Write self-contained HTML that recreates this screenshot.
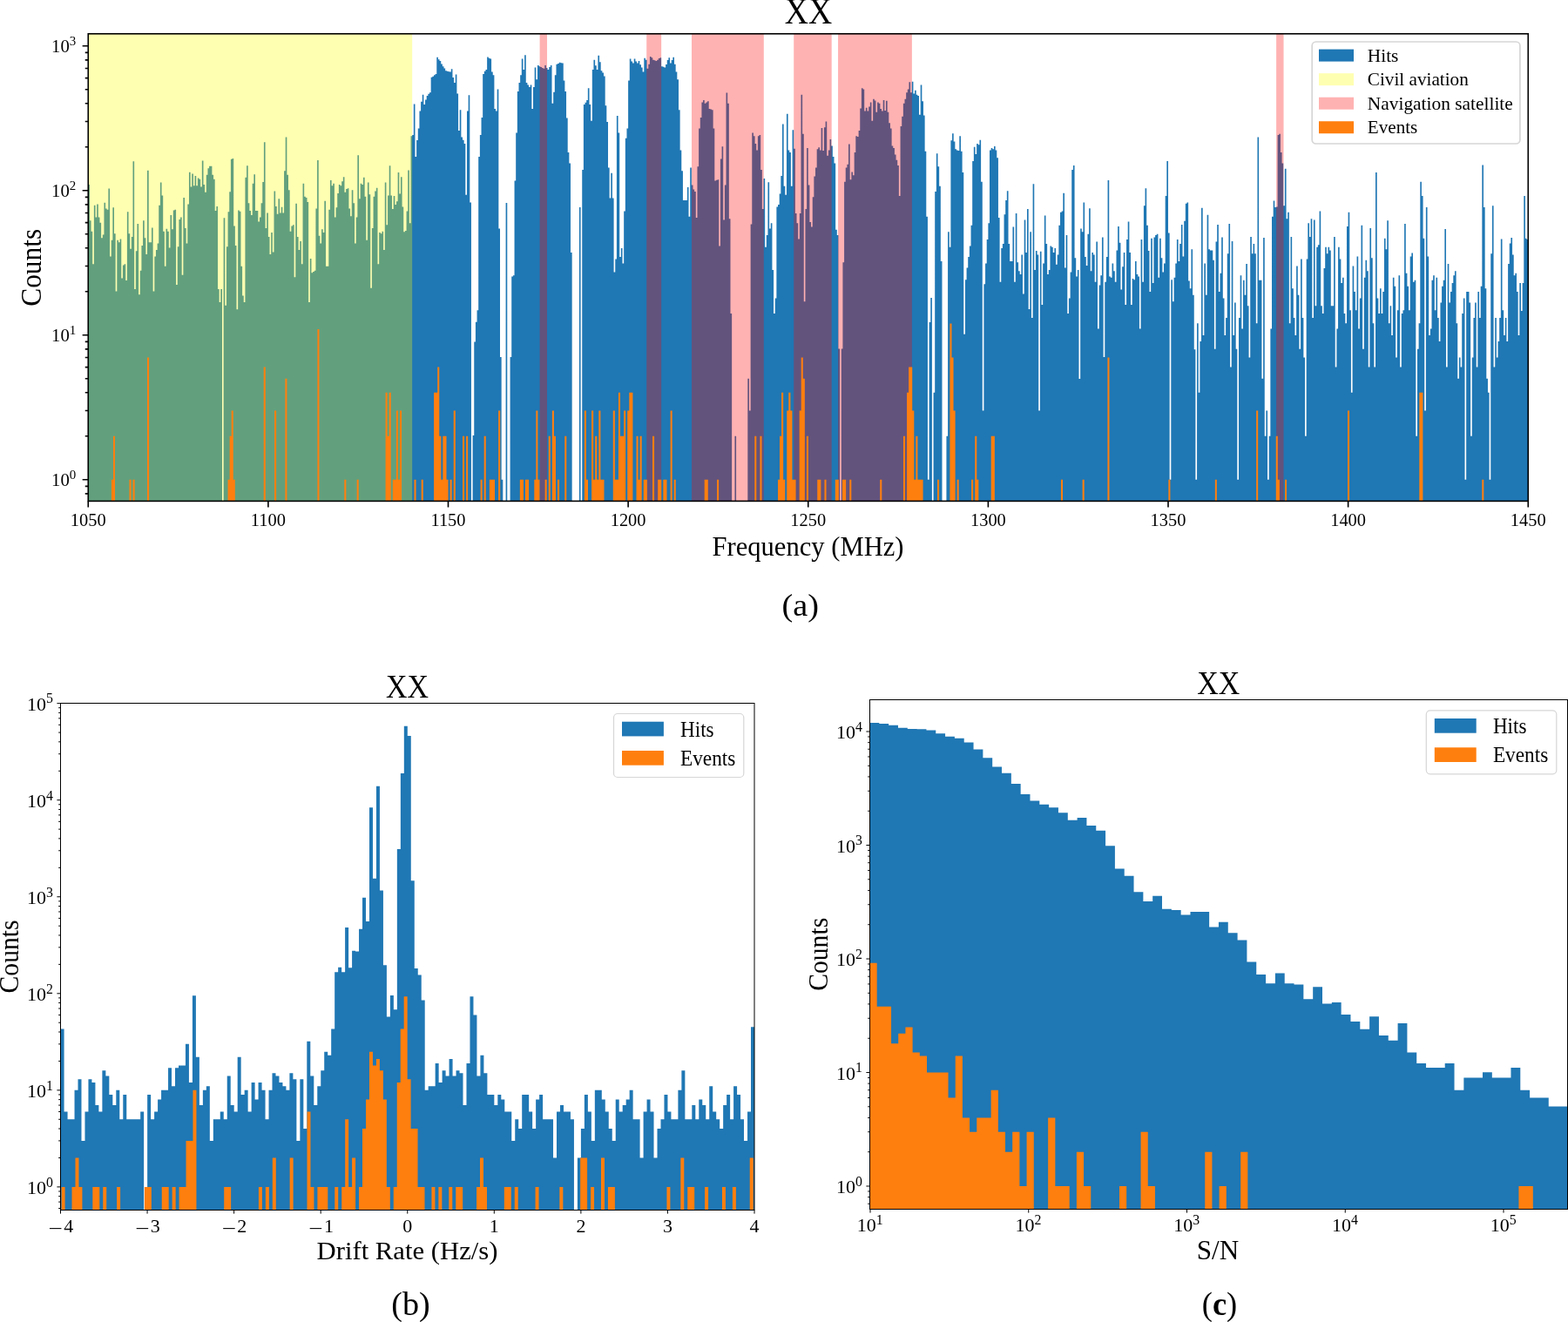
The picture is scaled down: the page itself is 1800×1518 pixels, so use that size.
<!DOCTYPE html>
<html lang="en"><head><meta charset="utf-8"><title>Hits and events histograms</title>
<style>html,body{margin:0;padding:0;background:#fff}body{width:1800px;height:1518px;overflow:hidden}svg{display:block}</style></head>
<body>
<svg width="1800" height="1518" viewBox="0 0 1800 1518" font-family='"Liberation Serif", "DejaVu Serif", serif' fill="#000">
<rect width="1800" height="1518" fill="#fff"/>
<clipPath id="ca"><rect x="101.25" y="38.8" width="1653" height="536.6"/></clipPath>
<g clip-path="url(#ca)">
<path fill="#1f77b4" d="M101.25 575.4V212.05H102.9V253.3H104.56V265.8H106.21V303.3H107.86V235.8H109.52V249.55H111.17V234.55H112.82V249.55H114.47V255.8H116.13V273.3H117.78V269.55H119.43V232.8H121.09V239.55H122.74V240.8H124.39V216.55H126.05V294.55H127.7V275.8H129.35V238.3H131V268.3H132.66V334.55H134.31V275.8H135.96V278.3H137.62V274.55H139.27V319.55H140.92V304.55H142.57V303.3H144.23V322.05H145.88V243.3H147.53V268.3H149.19V285.8H150.84V272.05H152.49V185.3H154.15V332.05H155.8V288.3H157.45V257.05H159.11V338.3H160.76V310.8H162.41V282.05H164.06V253.3H165.72V273.3H167.37V292.05H169.02V195.8H170.68V278.3H173.98V261.55H175.63V334.55H177.29V294.55H178.94V287.05H180.59V279.55H182.25V235.8H183.9V209.55H185.55V224.55H187.21V265.8H188.86V305.8H190.51V262.8H192.17V265.8H193.82V284.55H195.47V247.05H197.12V263.3H198.78V241.55H200.43V240.8H202.08V327.05H203.74V283.3H205.39V252.05H207.04V249.55H208.69V315.8H210.35V227.05H212V262.05H213.65V279.55H215.31V234.55H216.96V197.8H218.61V214.55H220.27V199.55H221.92V213.3H223.57V202.05H225.23V213.3H226.88V204.55H228.53V205.8H230.18V214.55H231.84V184.55H233.49V212.05H235.14V220.8H236.8V200.8H238.45V193.3H240.1V190.8H243.41V200.8H245.06V205.8H246.71V242.05H248.37V237.05H250.02V332.05H251.67V347.05H253.33V332.05H254.98V575.4ZM256.63 575.4V250.3H258.28V350.8H259.94V283.3H261.59V243.3H263.24V220.3H264.9V182.8H266.55V182.05H268.2V259.55H269.86V282.05H271.51V355.3H273.16V241.55H274.81V242.8H276.47V305.8H278.12V339.55H279.77V347.05H281.43V203.8H283.08V190.3H284.73V233.3H286.39V242.05H288.04V247.05H289.69V210.8H291.35V200.3H293V242.05H296.3V254.55H297.96V249.55H299.61V233.3H301.26V209.05H302.92V163.3H304.57V262.05H306.22V244.55H307.88V272.05H309.53V292.05H311.18V267.05H312.83V289.55H314.49V219.55H316.14V237.05H317.79V245.8H319.45V228.3H321.1V244.55H322.75V237.8H324.4V244.55H326.06V196.3H327.71V157.55H329.36V200.8H331.02V218.3H332.67V265.8H334.32V259.55H335.98V258.3H337.63V318.3H339.28V233.8H340.94V272.05H342.59V287.05H344.24V277.05H345.89V303.3H347.55V210.8H349.2V225.8H350.85V227.05H352.51V232.05H354.16V347.05H355.81V297.05H357.47V313.3H359.12V312.05H360.77V310.8H362.42V239.55H364.08V184.05H365.73V270.8H367.38V279.55H369.04V263.3H370.69V267.05H372.34V230.8H374V305.8H377.3V240.8H378.95V207.05H380.61V213.3H382.26V210.8H383.91V249.55H385.57V238.3H387.22V222.05H388.87V212.05H390.52V213.3H392.18V208.3H393.83V203.3H395.48V220.8H397.14V217.05H398.79V216.3H400.44V239.55H402.1V248.3H403.75V218.3H405.4V233.3H407.06V279.55H408.71V249.55H410.36V178.3H412.01V228.3H413.67V210.8H415.32V212.05H416.97V203.8H418.63V225.8H420.28V275.8H421.93V209.55H423.58V223.3H425.24V330.8H426.89V262.05H428.54V225.8H430.2V219.55H431.85V215.8H433.5V303.3H435.16V267.05H436.81V268.3H438.46V265.8H440.12V287.05H441.77V209.55H443.42V258.3H445.07V224.55H446.73V190.3H448.38V224.55H450.03V240H451.69V225H453.34V235H454.99V231.25H456.64V198H458.3V222.5H459.95V203.25H461.6V237.5H463.26V266.25H464.91V265H466.56V242.5H468.22V195.5H469.87V256.25H471.52V156.25H473.18V155H474.83V119.5H476.48V180H478.13V161.01H479.79V147.5H481.44V127.5H483.09V116.85H484.75V108.75H486.4V120H488.05V114.49H489.7V110H491.36V107.82H493.01V106.25H494.66V88.75H496.32V87.86H497.97V86.2H499.62V85H501.28V65.75H502.93V68.37H504.58V70H506.24V73.44H507.89V76.25H509.54V78.41H511.19V81.25H512.85V81.64H514.5V82.19H516.15V82.5H517.81V79.25H519.46V88.92H521.11V95H522.76V85.5H524.42V107.5H526.07V150H527.72V126.25H529.38V157.5H531.03V160.63H532.68V165H534.34V223.75H535.99V127.5H537.64V109.25H539.3V232.5H540.95V575.4ZM542.6 575.4V500H544.25V392.5H545.91V369.65H547.56V356.25H549.21V180H550.87V155H552.52V135H554.17V85H555.83V81.7H557.48V80H559.13V65.5H560.78V66.79H562.44V67.5H564.09V82.5H565.74V86.25H567.4V125H569.05V127.5H570.7V102.5H572.36V262.5H574.01V410H575.66V550.75H577.31V575.4ZM580.62 575.4V233H582.27V575.4ZM585.58 575.4V410H587.23V317.5H588.88V316.25H590.54V207.5H592.19V152.5H593.84V105H595.5V95.07H597.15V86.25H598.8V67.5H600.46V80H602.11V63.25H603.76V95H605.41V97.48H607.07V100H608.72V97.5H610.37V125H612.03V100H613.68V77.5H615.33V91.25H616.99V75H618.64V76.25H620.29V77H621.95V78.1H623.6V78.75H625.25V75H626.9V77.96H628.56V80H630.21V76.95H631.86V75H633.52V118.75H635.17V105.81H636.82V86.25H638.48V73.75H640.13V72.99H641.78V71.75H643.43V72.16H645.09V72.5H646.74V92.5H648.39V105H650.05V135.54H651.7V175H653.35V187.5H655V290H656.66V575.4ZM664.92 575.4V238H666.58V575.4ZM668.23 575.4V195H669.88V120H671.53V117.78H673.19V115H674.84V101.25H676.49V120H678.15V138.75H679.8V80H681.45V68.75H683.11V75.2H684.76V80H686.41V63.75H688.07V71.25H689.72V81.25H691.37V83.62H693.02V87.5H694.68V121.25H696.33V140H697.98V192.5H699.64V227.5H701.29V198.75H702.94V227.5H704.6V312.5H706.25V297.5H707.9V133H709.55V152.5H711.21V295H712.86V285H714.51V302.5H716.17V242.5H717.82V158.75H719.47V147.5H721.12V92.5H722.78V67.5H724.43V70.52H726.08V72.5H727.74V67.5H729.39V70.43H731.04V72.5H732.7V70H734.35V74.28H736V77.5H737.65V82.5H739.31V66.75H740.96V68.75H742.61V78.75H744.27V73.82H745.92V65H747.57V66.35H749.23V68.75H750.88V69.32H752.53V70H754.19V68.74H755.84V67.09H757.49V66.25H759.14V76.25H760.8V76.79H762.45V77.5H764.1V73.96H765.76V69H767.41V66.25H769.06V72.5H770.72V69.03H772.37V65.75H774.02V73.75H775.67V82.5H777.33V91.25H778.98V126.25H780.63V172.5H782.29V196.25H783.94V230H788.9V215H790.55V248.75H792.2V192.5H793.86V212.5H795.51V217.5H797.16V220H798.82V250H800.47V191.25H802.12V147.5H803.77V135H805.43V117.5H807.08V115H808.73V118.75H810.39V117.54H812.04V116.25H813.69V125H815.35V125.59H817V126.25H818.65V147.5H820.31V207.5H821.96V206.85H823.61V206.25H825.26V282.5H826.92V182.5H828.57V168.25H830.22V252.5H831.88V212.5H833.53V106.5H835.18V118.75H836.84V251.25H838.49V360H840.14V575.4ZM843.45 575.4V500.78H845.1V575.4ZM858.32 575.4V434.72H859.98V471.55H861.63V257.5H863.28V152.5H864.94V156.25H866.59V165H868.24V172.5H869.89V156.25H871.55V155H873.2V195H874.85V240H876.51V205H878.16V283.75H879.81V270H881.47V209.25H883.12V262.5H884.77V256.25H886.43V310H888.08V360H889.73V342.5H891.38V237.5H893.04V235H894.69V222.5H896.34V202H898V142.5H899.65V213.75H901.3V223.75H902.96V130.75H904.61V172.5H906.26V175H907.91V213.75H909.57V149.25H911.22V170.75H912.87V245H914.53V256.25H916.18V274.5H917.83V245H919.49V108.75H921.14V153.75H922.79V346.25H924.44V240H926.1V170H927.75V212.5H929.4V255H931.06V260.5H932.71V226.25H934.36V202.5H936.01V192.5H937.67V171.25H939.32V169.25H940.97V172.5H942.63V147H944.28V173H945.93V146.25H947.59V139.5H949.24V178.75H950.89V172.5H952.54V160H954.2V167.5H955.85V180H957.5V187.5H959.16V263.75H960.81V270H962.46V400.6H964.12V575.4ZM965.77 575.4V400.6H967.42V301.25H969.08V208.75H970.73V192.5H972.38V188.75H974.03V165.5H975.69V206.25H977.34V197.5H978.99V201.25H980.65V175H982.3V156.25H983.95V157H985.61V150H987.26V124.5H988.91V101.25H990.56V102.5H992.22V127.5H993.87V123.75H995.52V127.5H997.18V122.5H998.83V117.5H1000.48V138.75H1002.13V113.75H1003.79V115.5H1005.44V128.75H1007.09V117.5H1008.75V118.75H1010.4V125H1012.05V127.5H1013.71V115H1015.36V127H1017.01V115.75H1018.66V128.75H1020.32V141.25H1021.97V147.5H1023.62V167.5H1025.28V170H1026.93V177.5H1028.58V183.75H1030.24V190H1031.89V225H1033.54V145H1035.2V133.75H1036.85V118.75H1038.5V113.75H1040.15V106.25H1041.81V102.5H1043.46V94.25H1045.11V106.25H1046.77V93.75H1048.42V107.5H1050.07V103.75H1051.72V108.75H1053.38V110H1055.03V131.75H1056.68V97.5H1058.34V116.25H1059.99V132.5H1061.64V173.75H1063.3V248.75H1064.95V550.75H1066.6V370H1068.26V342H1069.91V575.4ZM1071.56 575.4V450.81H1073.21V220H1074.87V176.25H1076.52V191.25H1078.17V213.75H1079.83V300H1081.48V575.4ZM1086.44 575.4V500.78H1088.09V266.25H1089.74V283.75H1091.4V161.25H1093.05V153.25H1094.7V162.5H1096.36V171.25H1098.01V172.5H1099.66V173H1101.32V156.25H1102.97V173.75H1104.62V198H1106.27V383.75H1107.93V321.25H1109.58V307.5H1111.23V295H1112.89V282.5H1114.54V258.75H1116.19V185H1117.85V168.75H1119.5V177H1121.15V165H1122.8V166.25H1124.46V160.75H1126.11V208.75H1127.76V471.55H1129.42V326.25H1131.07V302.5H1132.72V275H1134.38V256.25H1136.03V172.5H1137.68V170H1139.33V171.25H1140.99V168H1142.64V172.5H1144.29V181.25H1145.95V250H1147.6V323.75H1149.25V285H1150.9V280H1152.56V246.25H1154.21V230H1155.86V219.25H1157.52V280H1159.17V300H1162.48V260.5H1164.13V323.75H1165.78V245H1167.43V301.25H1169.09V311.25H1170.74V315H1172.39V292.5H1174.05V337.5H1175.7V252.5H1177.35V290H1179.01V240H1180.66V355H1182.31V266.25H1183.96V365H1185.62V211.25H1187.27V310H1188.92V288H1190.58V292.5H1192.23V471.55H1193.88V288.75H1195.54V350H1197.19V302.5H1198.84V247.5H1200.5V280H1202.15V315H1203.8V310H1205.45V282.5H1207.11V283.75H1208.76V290H1210.41V285H1212.07V303.75H1213.72V292.5H1215.37V258.75H1217.03V243.75H1218.68V242.5H1220.33V221.75H1221.98V307.5H1223.64V270H1225.29V360H1226.94V342.5H1228.6V312.5H1230.25V195H1231.9V190H1233.56V296.25H1235.21V317.5H1236.86V310H1238.51V435H1240.17V262.5H1241.82V266.25H1243.47V232.5H1245.13V295H1246.78V305H1248.43V268.75H1250.09V239.25H1251.74V311.25H1253.39V290H1255.04V292.5H1256.7V323.75H1258.35V277.5H1260V377.5H1261.66V327.5H1263.31V316.25H1264.96V272.5H1266.62V410H1268.27V323.75H1269.92V295H1271.57V207H1273.23V317.5H1274.88V318.75H1276.53V302.5H1278.19V311.25H1279.84V323.75H1281.49V287.5H1283.14V260H1284.8V278.75H1286.45V332.5H1288.1V306.25H1289.76V290H1291.41V350H1293.06V275H1294.72V254.5H1296.37V290H1298.02V350H1299.67V320H1301.33V321.25H1302.98V300H1304.63V315H1306.29V317.5H1307.94V377.5H1309.59V275H1311.25V323.75H1312.9V236.25H1314.55V216.25H1316.2V258.75H1317.86V288.12H1319.51V335H1321.16V273.75H1322.82V325H1324.47V272.5H1326.12V270H1327.78V268.75H1329.43V318.75H1331.08V273.75H1332.74V296.25H1334.39V312.5H1336.04V302.5H1337.69V225H1339.35V185H1341V267.5H1342.65V550.75H1344.31V321.25H1345.96V346.25H1347.61V318.75H1349.27V302.5H1350.92V275H1352.57V300H1354.22V280H1355.88V258H1357.53V294.5H1359.18V253.75H1360.84V233.75H1362.49V232.5H1364.14V322.5H1365.8V331.25H1367.45V286.25H1369.1V338.75H1370.75V401.25H1372.41V550.75H1374.06V371.25H1375.71V450.75H1377.37V392H1379.02V238.75H1380.67V385H1382.33V302.5H1383.98V338.75H1385.63V246.75H1387.28V286.25H1388.94V287.5H1392.24V298.75H1393.9V400.75H1395.55V277.5H1397.2V258H1398.86V335H1400.51V313.75H1402.16V272.5H1403.81V342.5H1405.47V385H1407.12V365H1408.77V291.25H1410.43V257H1412.08V421.5H1413.73V277H1415.38V385H1417.04V347.5H1418.69V400.75H1420.34V550.75H1422V365H1423.65V316.25H1425.3V377.5H1426.96V321.75H1428.61V338.75H1430.26V303H1431.91V351.25H1433.57V410.5H1435.22V272H1436.87V291.25H1438.53V280H1440.18V291.25H1441.83V371.25H1443.49V157.5H1445.14V321.75H1448.44V434.75H1450.1V273H1451.75V500.75H1453.4V471.5H1455.06V550.75H1456.71V500.75H1458.36V377.5H1460.02V248.75H1461.67V230.5H1463.32V238H1464.97V237.5H1466.63V155H1468.28V153.75H1469.93V175H1471.59V187.5H1473.24V236.25H1474.89V193.75H1476.55V251.25H1478.2V243.75H1479.85V371.25H1481.51V272H1483.16V331.25H1484.81V365H1486.46V385H1488.12V305.5H1489.77V338.75H1491.42V400.75H1493.08V297.5H1494.73V365H1496.38V410.5H1498.04V500.75H1499.69V297.5H1501.34V256.25H1502.99V272H1504.65V251.25H1506.3V365H1507.95V252.5H1509.61V351.25H1511.26V283.75H1512.91V281.25H1514.57V242.5H1516.22V351.25H1517.87V360H1519.52V308H1521.18V283.75H1522.83V291.25H1524.48V283.75H1526.14V287.5H1527.79V351.25H1531.1V272H1532.75V421.5H1534.4V377.5H1536.05V283.75H1537.71V297.5H1539.36V325H1541.01V318.75H1542.67V360H1544.32V371.25H1545.97V260H1547.62V243.75H1549.28V356.25H1550.93V450.75H1552.58V305.5H1554.24V335H1555.89V356.25H1557.54V294.5H1559.2V377.5H1560.85V342.5H1562.5V258.75H1564.15V400.75H1565.81V318.75H1567.46V298.75H1569.11V311.25H1570.77V421.5H1572.42V262H1574.07V296.25H1575.73V371.25H1577.38V421.5H1579.03V198H1580.68V342.5H1582.34V360H1583.99V331.25H1585.64V360H1587.3V335H1588.95V273.75H1590.6V286.25H1592.26V253.25H1593.91V371.25H1595.56V351.25H1597.21V385H1598.87V318.75H1600.52V328.75H1602.17V410.5H1603.83V356.25H1605.48V316.25H1607.13V421.5H1608.79V360H1610.44V356.25H1612.09V257H1613.75V313.75H1615.4V328.75H1617.05V356.25H1618.7V294.5H1620.36V290.5H1622.01V323.75H1623.66V321.75H1625.32V500.75H1626.97V400.75H1628.62V371.25H1630.28V208.75H1631.93V225H1633.58V273.75H1635.23V471.5H1636.89V238H1638.54V294.5H1640.19V385H1641.85V377.5H1643.5V321.75H1645.15V316.25H1646.81V356.25H1648.46V318.75H1650.11V365H1651.76V392H1653.42V347.5H1655.07V328.75H1656.72V321.75H1658.38V263H1660.03V421.5H1661.68V303H1663.34V347.5H1664.99V335H1666.64V325H1668.29V316.25H1669.95V311.25H1671.6V371.25H1673.25V434.75H1674.91V410.5H1676.56V421.5H1678.21V360H1679.87V342.5H1681.52V550.75H1683.17V335H1686.48V347.5H1688.13V500.75H1689.78V410.5H1691.44V365H1693.09V347.5H1694.74V421.5H1696.39V335H1698.05V365H1699.7V328.75H1701.35V189.5H1703.01V238H1704.66V331.25H1706.31V434.75H1707.97V450.75H1709.62V550.75H1711.27V291.25H1712.92V236.25H1714.58V421.5H1716.23V365H1717.88V410.5H1719.54V392H1721.19V365H1722.84V274.5H1724.5V356.25H1726.15V385H1727.8V365H1729.45V392H1731.11V303H1732.76V279.5H1734.41V273H1736.07V292.5H1737.72V316.25H1739.37V313.75H1741.03V335H1742.68V385H1744.33V325H1745.99V356.88H1747.64V325H1749.29V225H1750.94V273.75H1752.6V275H1754.25V575.4Z"/>
<rect x="18.6" y="38.8" width="454.58" height="536.6" fill="#ff0" fill-opacity="0.3"/>
<rect x="619.59" y="38.8" width="8.43" height="536.6" fill="#f00" fill-opacity="0.3"/>
<rect x="742.2" y="38.8" width="16.94" height="536.6" fill="#f00" fill-opacity="0.3"/>
<rect x="793.98" y="38.8" width="82.82" height="536.6" fill="#f00" fill-opacity="0.3"/>
<rect x="911.22" y="38.8" width="43.47" height="536.6" fill="#f00" fill-opacity="0.3"/>
<rect x="962.05" y="38.8" width="84.84" height="536.6" fill="#f00" fill-opacity="0.3"/>
<rect x="1465.1" y="38.8" width="8.43" height="536.6" fill="#f00" fill-opacity="0.3"/>
<path fill="#ff7f0e" d="M127.9 575.4V550.75H129.96V500.78H132.01V575.4ZM148.47 575.4V550.75H150.52V575.4ZM152.58 575.4V550.75H154.64V575.4ZM169.03 575.4V410.46H171.09V575.4ZM261.59 575.4V550.75H263.64V500.78H265.7V471.55H267.76V550.75H269.81V575.4ZM302.72 575.4V421.58H304.78V575.4ZM315.06 575.4V471.55H317.12V575.4ZM327.4 575.4V434.72H329.46V575.4ZM364.42 575.4V377.88H366.48V575.4ZM395.27 575.4V550.75H397.33V575.4ZM409.67 575.4V550.75H411.72V575.4ZM442.58 575.4V450.81H444.63V500.78H446.69V450.81H448.75V575.4ZM450.8 575.4V550.75H454.92V471.55H456.97V550.75H459.03V471.55H461.09V575.4ZM475.48 575.4V550.75H477.54V575.4ZM483.71 575.4V550.75H485.77V575.4ZM498.11 575.4V450.81H502.22V421.58H504.28V500.78H506.33V550.75H508.39V500.78H512.5V550.75H514.56V575.4ZM516.62 575.4V550.75H518.67V575.4ZM520.73 575.4V471.55H522.79V575.4ZM531.01 575.4V500.78H533.07V575.4ZM535.13 575.4V500.78H537.18V575.4ZM551.58 575.4V550.75H553.64V575.4ZM555.69 575.4V500.78H557.75V575.4ZM561.86 575.4V550.75H568.03V575.4ZM572.15 575.4V471.55H574.2V575.4ZM596.83 575.4V550.75H600.94V575.4ZM603 575.4V550.75H607.11V575.4ZM613.28 575.4V550.75H615.34V471.55H617.39V550.75H619.45V575.4ZM625.62 575.4V550.75H627.68V575.4ZM629.73 575.4V500.78H631.79V575.4ZM633.85 575.4V471.55H635.9V500.78H637.96V575.4ZM640.02 575.4V550.75H642.08V575.4ZM648.25 575.4V500.78H650.3V575.4ZM670.87 575.4V471.55H672.93V550.75H674.98V575.4ZM679.1 575.4V471.55H681.15V550.75H683.21V500.78H685.27V550.75H687.32V471.55H689.38V550.75H693.49V575.4ZM703.78 575.4V471.55H705.83V550.75H709.95V450.81H712V500.78H716.12V471.55H718.17V575.4ZM720.23 575.4V471.55H722.29V450.81H726.4V575.4ZM730.51 575.4V500.78H732.57V550.75H734.63V500.78H736.68V575.4ZM738.74 575.4V550.75H742.85V575.4ZM749.02 575.4V500.78H751.08V575.4ZM755.19 575.4V550.75H759.31V575.4ZM761.36 575.4V550.75H765.48V575.4ZM769.59 575.4V471.55H771.65V575.4ZM773.7 575.4V550.75H775.76V575.4ZM808.67 575.4V550.75H812.78V575.4ZM823.06 575.4V550.75H825.12V575.4ZM866.26 575.4V500.78H868.31V575.4ZM872.43 575.4V500.78H874.48V575.4ZM892.99 575.4V550.75H895.05V500.78H897.11V450.81H899.16V550.75H901.22V575.4ZM903.28 575.4V471.55H905.33V450.81H907.39V471.55H909.45V550.75H913.56V575.4ZM917.67 575.4V471.55H919.73V410.46H921.79V434.72H923.84V575.4ZM925.9 575.4V500.78H927.96V575.4ZM938.24 575.4V550.75H942.35V575.4ZM946.47 575.4V550.75H948.52V575.4ZM958.81 575.4V550.75H962.92V575.4ZM967.03 575.4V550.75H971.15V575.4ZM975.26 575.4V550.75H977.32V575.4ZM1010.22 575.4V550.75H1012.28V575.4ZM1036.96 575.4V500.78H1039.02V575.4ZM1041.07 575.4V450.81H1043.13V421.58H1047.24V471.55H1049.3V550.75H1051.36V500.78H1053.42V550.75H1059.59V575.4ZM1076.04 575.4V550.75H1078.1V575.4ZM1090.44 575.4V371.61H1092.49V410.46H1094.55V471.55H1096.61V575.4ZM1098.66 575.4V550.75H1100.72V575.4ZM1115.12 575.4V550.75H1117.17V575.4ZM1119.23 575.4V500.78H1121.29V550.75H1123.34V575.4ZM1137.74 575.4V500.78H1141.85V575.4ZM1217.95 575.4V550.75H1220.01V575.4ZM1242.63 575.4V550.75H1244.69V575.4ZM1271.43 575.4V410.46H1273.48V575.4ZM1341.35 575.4V550.75H1343.41V575.4ZM1394.83 575.4V550.75H1396.88V575.4ZM1442.13 575.4V471.55H1444.19V575.4ZM1464.76 575.4V500.78H1466.81V550.75H1468.87V575.4ZM1475.04 575.4V550.75H1477.1V575.4ZM1547.02 575.4V471.55H1549.08V575.4ZM1629.29 575.4V450.81H1633.4V575.4ZM1701.28 575.4V550.75H1703.33V575.4Z"/>
</g>
<rect x="101.25" y="38.8" width="1653" height="536.6" fill="none" stroke="#000" stroke-width="1.6"/>
<path d="M101.25 566.84h-3.5M101.25 558.35h-3.5M101.25 550.75h-6.6M101.25 500.78h-3.5M101.25 471.55h-3.5M101.25 450.81h-3.5M101.25 434.72h-3.5M101.25 421.58h-3.5M101.25 410.46h-3.5M101.25 400.84h-3.5M101.25 392.35h-3.5M101.25 384.75h-6.6M101.25 334.78h-3.5M101.25 305.55h-3.5M101.25 284.81h-3.5M101.25 268.72h-3.5M101.25 255.58h-3.5M101.25 244.46h-3.5M101.25 234.84h-3.5M101.25 226.35h-3.5M101.25 218.75h-6.6M101.25 168.78h-3.5M101.25 139.55h-3.5M101.25 118.81h-3.5M101.25 102.72h-3.5M101.25 89.58h-3.5M101.25 78.46h-3.5M101.25 68.84h-3.5M101.25 60.35h-3.5M101.25 52.75h-6.6" stroke="#000" stroke-width="1.6" fill="none"/>
<text x="87.25" y="557.95" font-size="20.7" text-anchor="end">10<tspan font-size="14.9" dy="-7.97">0</tspan></text>
<text x="87.25" y="391.95" font-size="20.7" text-anchor="end">10<tspan font-size="14.9" dy="-7.97">1</tspan></text>
<text x="87.25" y="225.95" font-size="20.7" text-anchor="end">10<tspan font-size="14.9" dy="-7.97">2</tspan></text>
<text x="87.25" y="59.95" font-size="20.7" text-anchor="end">10<tspan font-size="14.9" dy="-7.97">3</tspan></text>
<text x="101.25" y="604" font-size="20.4" text-anchor="middle">1050</text>
<text x="307.88" y="604" font-size="20.4" text-anchor="middle">1100</text>
<text x="514.5" y="604" font-size="20.4" text-anchor="middle">1150</text>
<text x="721.12" y="604" font-size="20.4" text-anchor="middle">1200</text>
<text x="927.75" y="604" font-size="20.4" text-anchor="middle">1250</text>
<text x="1134.38" y="604" font-size="20.4" text-anchor="middle">1300</text>
<text x="1341" y="604" font-size="20.4" text-anchor="middle">1350</text>
<text x="1547.62" y="604" font-size="20.4" text-anchor="middle">1400</text>
<text x="1754.25" y="604" font-size="20.4" text-anchor="middle">1450</text>
<path d="M101.25 575.4v7M307.88 575.4v7M514.5 575.4v7M721.12 575.4v7M927.75 575.4v7M1134.38 575.4v7M1341 575.4v7M1547.62 575.4v7M1754.25 575.4v7" stroke="#000" stroke-width="1.6" fill="none"/>
<text x="927.5" y="637.6" font-size="30.5" text-anchor="middle" textLength="220" lengthAdjust="spacingAndGlyphs">Frequency (MHz)</text>
<text x="928" y="26.8" font-size="42" text-anchor="middle" textLength="54.5" lengthAdjust="spacingAndGlyphs">XX</text>
<text transform="translate(47.3,307.3) rotate(-90)" font-size="33" text-anchor="middle" textLength="89" lengthAdjust="spacingAndGlyphs">Counts</text>
<text x="918.8" y="706.6" font-size="36" text-anchor="middle" textLength="42.5" lengthAdjust="spacingAndGlyphs">(a)</text>
<rect x="1506.2" y="48" width="238.7" height="117" rx="4.5" fill="#fff" fill-opacity="0.8" stroke="#ccc" stroke-opacity="0.8" stroke-width="1.7"/>
<rect x="1514" y="56.6" width="40" height="14" fill="#1f77b4" fill-opacity="1"/>
<text x="1569.8" y="70.6" font-size="20.6" textLength="35.6" lengthAdjust="spacingAndGlyphs">Hits</text>
<rect x="1514" y="84.15" width="40" height="14" fill="#ff0" fill-opacity="0.3"/>
<text x="1569.8" y="98.15" font-size="20.6" textLength="116" lengthAdjust="spacingAndGlyphs">Civil aviation</text>
<rect x="1514" y="111.7" width="40" height="14" fill="#f00" fill-opacity="0.3"/>
<text x="1569.8" y="125.7" font-size="20.6" textLength="167" lengthAdjust="spacingAndGlyphs">Navigation satellite</text>
<rect x="1514" y="139.25" width="40" height="14" fill="#ff7f0e" fill-opacity="1"/>
<text x="1569.8" y="153.25" font-size="20.6" textLength="57.5" lengthAdjust="spacingAndGlyphs">Events</text>
<clipPath id="cb"><rect x="69.5" y="807.5" width="796.5" height="582"/></clipPath>
<g clip-path="url(#cb)">
<path fill="#1f77b4" d="M69.6 1389.5V1181.5H73.58V1276.49H77.56V1285.28H85.53V1251.85H89.51V1239.2H93.49V1309.92H97.47V1276.49H101.46V1239.2H105.44V1243.06H109.42V1269.05H113.4V1276.49H117.38V1229.18H121.37V1235.62H125.35V1256.93H129.33V1269.05H133.31V1251.85H137.29V1285.28H141.28V1256.93H145.26V1285.28H161.19V1276.49H165.17V1389.5ZM169.15 1389.5V1256.93H173.13V1285.28H177.11V1276.49H181.1V1262.61H185.08V1251.85H193.04V1226.26H197.02V1247.25H201.01V1226.26H204.99V1223.5H212.95V1198.87H216.93V1243.06H220.92V1143.27H224.9V1213.82H228.88V1269.05H232.86V1251.85H236.84V1247.25H240.83V1309.92H244.81V1285.28H252.77V1276.49H256.75V1285.28H260.74V1235.62H264.72V1269.05H268.7V1276.49H272.68V1213.82H276.66V1256.93H280.65V1251.85H284.63V1276.49H288.61V1243.06H292.59V1262.61H296.57V1243.06H300.56V1251.85H304.54V1285.28H308.52V1251.85H312.5V1232.3H316.48V1235.62H320.47V1243.06H324.45V1247.25H328.43V1251.85H332.41V1232.3H336.39V1239.2H340.38V1309.92H344.36V1239.2H348.34V1296.04H352.32V1195.75H356.3V1235.62H360.29V1269.05H364.27V1247.25H368.25V1229.18H372.23V1207.66H376.21V1211.68H380.2V1181.5H384.18V1116.25H388.16V1110.75H392.14V1116.25H396.12V1065H400.11V1111.25H404.09V1091.75H408.07V1092.5H412.05V1066.75H416.03V1030.75H420.02V1058H424V927.25H427.98V1008.75H431.96V902.75H435.94V1022.5H439.93V1108.25H443.91V1167.5H447.89V1143H451.87V1159.25H455.85V975H459.84V888H463.82V833.75H467.8V845H471.78V1011.25H475.76V1112H479.75V1119.5H483.73V1148.5H487.71V1251.85H491.69V1247.25H499.66V1220.89H503.64V1243.06H507.62V1229.18H511.6V1235.62H515.58V1216.07H519.57V1235.62H523.55V1229.18H527.53V1232.3H531.51V1269.05H535.49V1220.89H539.48V1144.3H543.46V1165.44H547.44V1235.62H551.42V1211.68H555.4V1232.3H559.39V1256.93H567.35V1269.05H571.33V1256.93H575.31V1262.61H579.3V1276.49H587.26V1309.92H591.24V1285.28H595.22V1296.04H599.21V1256.93H607.17V1276.49H611.15V1296.04H615.13V1262.61H619.12V1256.93H623.1V1285.28H635.04V1329.47H639.03V1276.49H643.01V1269.05H646.99V1276.49H654.95V1285.28H658.94V1389.5ZM662.92 1389.5V1329.47H666.9V1296.04H670.88V1256.93H674.86V1276.49H678.85V1309.92H682.83V1251.85H690.79V1262.61H694.77V1276.49H698.76V1296.04H702.74V1309.92H706.72V1262.61H710.7V1276.49H714.68V1269.05H718.67V1262.61H722.65V1251.85H726.63V1285.28H734.59V1329.47H738.58V1276.49H742.56V1262.61H746.54V1276.49H750.52V1329.47H754.5V1296.04H758.49V1285.28H762.47V1256.93H766.45V1276.49H770.43V1285.28H778.4V1251.85H782.38V1229.18H786.36V1285.28H794.32V1269.05H798.31V1285.28H802.29V1262.61H806.27V1269.05H810.25V1285.28H814.23V1247.25H818.22V1276.49H822.2V1285.28H826.18V1296.04H830.16V1269.05H834.14V1256.93H838.13V1285.28H842.11V1247.25H846.09V1256.93H850.07V1285.28H854.05V1309.92H858.04V1276.49H862.02V1179.31H866V1389.5Z"/>
<path fill="#ff7f0e" d="M70.6 1389.5V1362.9H74.57V1389.5ZM82.51 1389.5V1362.9H86.48V1329.47H90.45V1362.9H94.42V1389.5ZM106.33 1389.5V1362.9H114.28V1389.5ZM118.25 1389.5V1362.9H122.22V1389.5ZM134.13 1389.5V1362.9H138.1V1389.5ZM165.89 1389.5V1362.9H173.83V1389.5ZM185.74 1389.5V1362.9H193.69V1389.5ZM197.66 1389.5V1362.9H201.63V1389.5ZM205.6 1389.5V1362.9H213.54V1309.92H221.48V1251.85H225.45V1389.5ZM257.21 1389.5V1362.9H265.15V1389.5ZM296.92 1389.5V1362.9H300.89V1389.5ZM304.86 1389.5V1362.9H308.83V1389.5ZM312.8 1389.5V1329.47H316.77V1389.5ZM332.65 1389.5V1329.47H336.62V1389.5ZM352.51 1389.5V1276.49H356.48V1362.9H360.45V1389.5ZM364.42 1389.5V1362.9H376.33V1389.5ZM384.27 1389.5V1362.9H388.24V1389.5ZM392.21 1389.5V1362.9H396.18V1285.28H400.15V1362.9H404.12V1329.47H408.09V1389.5ZM412.06 1389.5V1362.9H416.03V1296.04H420V1262.61H423.97V1207.66H427.94V1223.5H431.92V1216.07H435.89V1229.18H439.86V1262.61H443.83V1362.9H447.8V1389.5ZM451.77 1389.5V1362.9H455.74V1243.06H459.71V1181.5H463.68V1144.3H467.65V1239.2H471.62V1296.04H479.56V1362.9H487.5V1389.5ZM495.44 1389.5V1362.9H499.41V1389.5ZM503.38 1389.5V1362.9H507.36V1389.5ZM515.3 1389.5V1362.9H519.27V1389.5ZM523.24 1389.5V1362.9H531.18V1389.5ZM547.06 1389.5V1362.9H551.03V1329.47H555V1362.9H558.97V1389.5ZM578.82 1389.5V1362.9H586.76V1389.5ZM590.74 1389.5V1362.9H594.71V1389.5ZM614.56 1389.5V1362.9H618.53V1389.5ZM642.35 1389.5V1362.9H646.32V1389.5ZM666.17 1389.5V1329.47H674.12V1389.5ZM678.09 1389.5V1362.9H682.06V1389.5ZM690 1389.5V1329.47H693.97V1389.5ZM697.94 1389.5V1362.9H705.88V1389.5ZM765.44 1389.5V1362.9H769.41V1389.5ZM781.32 1389.5V1329.47H785.29V1389.5ZM789.26 1389.5V1362.9H797.2V1389.5ZM809.11 1389.5V1362.9H813.08V1389.5ZM828.97 1389.5V1362.9H832.94V1389.5ZM840.88 1389.5V1362.9H844.85V1389.5ZM860.73 1389.5V1329.47H864.7V1389.5Z"/>
</g>
<rect x="69.5" y="807.5" width="796.5" height="582" fill="none" stroke="#000" stroke-width="1"/>
<path d="M69.5 1387.54h-2.3M69.5 1380.1h-2.3M69.5 1373.66h-2.3M69.5 1367.98h-2.3M69.5 1362.9h-4.1M69.5 1329.47h-2.3M69.5 1309.92h-2.3M69.5 1296.04h-2.3M69.5 1285.28h-2.3M69.5 1276.49h-2.3M69.5 1269.05h-2.3M69.5 1262.61h-2.3M69.5 1256.93h-2.3M69.5 1251.85h-4.1M69.5 1218.42h-2.3M69.5 1198.87h-2.3M69.5 1184.99h-2.3M69.5 1174.23h-2.3M69.5 1165.44h-2.3M69.5 1158h-2.3M69.5 1151.56h-2.3M69.5 1145.88h-2.3M69.5 1140.8h-4.1M69.5 1107.37h-2.3M69.5 1087.82h-2.3M69.5 1073.94h-2.3M69.5 1063.18h-2.3M69.5 1054.39h-2.3M69.5 1046.95h-2.3M69.5 1040.51h-2.3M69.5 1034.83h-2.3M69.5 1029.75h-4.1M69.5 996.32h-2.3M69.5 976.77h-2.3M69.5 962.89h-2.3M69.5 952.13h-2.3M69.5 943.34h-2.3M69.5 935.9h-2.3M69.5 929.46h-2.3M69.5 923.78h-2.3M69.5 918.7h-4.1M69.5 885.27h-2.3M69.5 865.72h-2.3M69.5 851.84h-2.3M69.5 841.08h-2.3M69.5 832.29h-2.3M69.5 824.85h-2.3M69.5 818.41h-2.3M69.5 812.73h-2.3M69.5 807.65h-4.1" stroke="#000" stroke-width="1" fill="none"/>
<text x="60.9" y="1371.2" font-size="22" text-anchor="end">10<tspan font-size="15.84" dy="-8.47">0</tspan></text>
<text x="60.9" y="1260.15" font-size="22" text-anchor="end">10<tspan font-size="15.84" dy="-8.47">1</tspan></text>
<text x="60.9" y="1149.1" font-size="22" text-anchor="end">10<tspan font-size="15.84" dy="-8.47">2</tspan></text>
<text x="60.9" y="1038.05" font-size="22" text-anchor="end">10<tspan font-size="15.84" dy="-8.47">3</tspan></text>
<text x="60.9" y="927" font-size="22" text-anchor="end">10<tspan font-size="15.84" dy="-8.47">4</tspan></text>
<text x="60.9" y="815.95" font-size="22" text-anchor="end">10<tspan font-size="15.84" dy="-8.47">5</tspan></text>
<text x="55.6" y="1414.8" font-size="22"><tspan textLength="16.4" lengthAdjust="spacingAndGlyphs" dy="3.1">−</tspan><tspan dx="1.2" dy="-3.1">4</tspan></text>
<text x="155.16" y="1414.8" font-size="22"><tspan textLength="16.4" lengthAdjust="spacingAndGlyphs" dy="3.1">−</tspan><tspan dx="1.2" dy="-3.1">3</tspan></text>
<text x="254.72" y="1414.8" font-size="22"><tspan textLength="16.4" lengthAdjust="spacingAndGlyphs" dy="3.1">−</tspan><tspan dx="1.2" dy="-3.1">2</tspan></text>
<text x="354.29" y="1414.8" font-size="22"><tspan textLength="16.4" lengthAdjust="spacingAndGlyphs" dy="3.1">−</tspan><tspan dx="1.2" dy="-3.1">1</tspan></text>
<text x="467.75" y="1414.8" font-size="22" text-anchor="middle">0</text>
<text x="567.31" y="1414.8" font-size="22" text-anchor="middle">1</text>
<text x="666.88" y="1414.8" font-size="22" text-anchor="middle">2</text>
<text x="766.44" y="1414.8" font-size="22" text-anchor="middle">3</text>
<text x="866" y="1414.8" font-size="22" text-anchor="middle">4</text>
<path d="M69.5 1389.5v4.1M169.06 1389.5v4.1M268.62 1389.5v4.1M368.19 1389.5v4.1M467.75 1389.5v4.1M567.31 1389.5v4.1M666.88 1389.5v4.1M766.44 1389.5v4.1M866 1389.5v4.1" stroke="#000" stroke-width="1.0" fill="none"/>
<text x="467.5" y="1446.2" font-size="30" text-anchor="middle" textLength="208" lengthAdjust="spacingAndGlyphs">Drift Rate (Hz/s)</text>
<text x="467.5" y="800.5" font-size="37.5" text-anchor="middle" textLength="49" lengthAdjust="spacingAndGlyphs">XX</text>
<text transform="translate(20.7,1098.4) rotate(-90)" font-size="32" text-anchor="middle" textLength="84" lengthAdjust="spacingAndGlyphs">Counts</text>
<text x="471.5" y="1510.3" font-size="37" text-anchor="middle" textLength="44.5" lengthAdjust="spacingAndGlyphs">(b)</text>
<rect x="704.5" y="819.5" width="149.3" height="73" rx="4.5" fill="#fff" fill-opacity="0.8" stroke="#ccc" stroke-opacity="0.8" stroke-width="1.2"/>
<rect x="714" y="828.7" width="47.9" height="16.7" fill="#1f77b4"/>
<text x="781" y="845.6" font-size="25" textLength="38.6" lengthAdjust="spacingAndGlyphs">Hits</text>
<rect x="714" y="862" width="47.9" height="16.7" fill="#ff7f0e"/>
<text x="781" y="878.9" font-size="25" textLength="63.4" lengthAdjust="spacingAndGlyphs">Events</text>
<clipPath id="cc"><rect x="998.5" y="803.5" width="801" height="585"/></clipPath>
<g clip-path="url(#cc)">
<path fill="#1f77b4" d="M998.5 1388.5V830H1009.32V831H1020.15V832.75H1030.97V835.75H1041.79V837H1052.62V837.25H1063.44V838.5H1074.26V842.25H1085.08V845.75H1095.91V847.75H1106.73V852.5H1117.55V860.5H1128.38V870.25H1139.2V880.5H1150.02V887.75H1160.85V900H1171.67V912H1182.49V919.5H1193.31V923.75H1204.14V927.25H1214.96V933.25H1225.78V941.75H1236.61V939H1247.43V948H1258.25V953.75H1269.08V971.25H1279.9V997.5H1290.72V1005.75H1301.54V1024.25H1312.37V1035H1323.19V1028.75H1334.01V1043.75H1344.84V1045H1355.66V1050.5H1366.48V1047H1388.13V1064.5H1398.95V1058.75H1409.77V1071.25H1420.6V1079.5H1431.42V1104.5H1442.24V1119H1453.07V1129.25H1463.89V1117.5H1474.71V1129.25H1485.54V1130.5H1496.36V1147.25H1507.18V1133.25H1518V1152.5H1528.83V1151H1539.65V1165H1550.47V1173H1561.3V1181.75H1572.12V1167.25H1582.94V1189H1593.76V1194.75H1604.59V1175H1615.41V1208.5H1626.23V1221H1637.06V1226H1658.7V1221H1669.53V1251.75H1680.35V1237.5H1701.99V1231.25H1712.82V1237.5H1734.46V1226H1745.29V1251.75H1756.11V1260.5H1777.76V1270.5H1799.4V1388.5Z"/>
<path fill="#ff7f0e" d="M998.5 1388.5V1105.73H1006.69V1155.84H1023.06V1198.19H1031.24V1186.81H1039.43V1179.57H1047.62V1208.52H1055.8V1212.43H1063.99V1231.5H1088.55V1260.45H1096.73V1212.43H1104.92V1283.43H1113.1V1299.74H1121.29V1283.43H1137.66V1251.71H1145.85V1299.74H1154.03V1322.72H1162.22V1299.74H1170.41V1362H1178.59V1299.74H1186.78V1388.5ZM1203.15 1388.5V1283.43H1211.34V1362H1227.71V1388.5ZM1235.89 1388.5V1322.72H1244.08V1362H1252.27V1388.5ZM1285.01 1388.5V1362H1293.2V1388.5ZM1309.57 1388.5V1299.74H1317.75V1362H1325.94V1388.5ZM1383.24 1388.5V1322.72H1391.43V1388.5ZM1399.61 1388.5V1362H1407.8V1388.5ZM1424.17 1388.5V1322.72H1432.36V1388.5ZM1743.43 1388.5V1362H1759.8V1388.5Z"/>
</g>
<rect x="998.5" y="803.5" width="801" height="585" fill="none" stroke="#000" stroke-width="1"/>
<path d="M998.5 1382.21h-2.3M998.5 1374.65h-2.3M998.5 1367.97h-2.3M998.5 1362h-4.1M998.5 1322.72h-2.3M998.5 1299.74h-2.3M998.5 1283.43h-2.3M998.5 1270.78h-2.3M998.5 1260.45h-2.3M998.5 1251.71h-2.3M998.5 1244.15h-2.3M998.5 1237.47h-2.3M998.5 1231.5h-4.1M998.5 1192.22h-2.3M998.5 1169.24h-2.3M998.5 1152.93h-2.3M998.5 1140.28h-2.3M998.5 1129.95h-2.3M998.5 1121.21h-2.3M998.5 1113.65h-2.3M998.5 1106.97h-2.3M998.5 1101h-4.1M998.5 1061.72h-2.3M998.5 1038.74h-2.3M998.5 1022.43h-2.3M998.5 1009.78h-2.3M998.5 999.45h-2.3M998.5 990.71h-2.3M998.5 983.15h-2.3M998.5 976.47h-2.3M998.5 970.5h-4.1M998.5 931.22h-2.3M998.5 908.24h-2.3M998.5 891.93h-2.3M998.5 879.28h-2.3M998.5 868.95h-2.3M998.5 860.21h-2.3M998.5 852.65h-2.3M998.5 845.97h-2.3M998.5 840h-4.1" stroke="#000" stroke-width="1" fill="none"/>
<text x="989.9" y="1370.3" font-size="22" text-anchor="end">10<tspan font-size="15.84" dy="-8.47">0</tspan></text>
<text x="989.9" y="1239.8" font-size="22" text-anchor="end">10<tspan font-size="15.84" dy="-8.47">1</tspan></text>
<text x="989.9" y="1109.3" font-size="22" text-anchor="end">10<tspan font-size="15.84" dy="-8.47">2</tspan></text>
<text x="989.9" y="978.8" font-size="22" text-anchor="end">10<tspan font-size="15.84" dy="-8.47">3</tspan></text>
<text x="989.9" y="848.3" font-size="22" text-anchor="end">10<tspan font-size="15.84" dy="-8.47">4</tspan></text>
<text x="998.7" y="1414.4" font-size="22" text-anchor="middle">10<tspan font-size="15.84" dy="-8.47">1</tspan></text>
<text x="1180.45" y="1414.4" font-size="22" text-anchor="middle">10<tspan font-size="15.84" dy="-8.47">2</tspan></text>
<text x="1362.2" y="1414.4" font-size="22" text-anchor="middle">10<tspan font-size="15.84" dy="-8.47">3</tspan></text>
<text x="1543.95" y="1414.4" font-size="22" text-anchor="middle">10<tspan font-size="15.84" dy="-8.47">4</tspan></text>
<text x="1725.7" y="1414.4" font-size="22" text-anchor="middle">10<tspan font-size="15.84" dy="-8.47">5</tspan></text>
<path d="M999 1388.5v4.1M1180.75 1388.5v4.1M1362.5 1388.5v4.1M1544.25 1388.5v4.1M1726 1388.5v4.1" stroke="#000" stroke-width="1.0" fill="none"/>
<text x="1398" y="1446.3" font-size="31" text-anchor="middle" textLength="48.5" lengthAdjust="spacingAndGlyphs">S/N</text>
<text x="1398.7" y="796.8" font-size="37.5" text-anchor="middle" textLength="49" lengthAdjust="spacingAndGlyphs">XX</text>
<text transform="translate(949.7,1095.8) rotate(-90)" font-size="32" text-anchor="middle" textLength="84" lengthAdjust="spacingAndGlyphs">Counts</text>
<text x="1400" y="1510.3" font-size="37" text-anchor="middle" textLength="40.5" lengthAdjust="spacingAndGlyphs">(<tspan font-weight="bold">c</tspan>)</text>
<rect x="1637.3" y="815.8" width="149.5" height="73" rx="4.5" fill="#fff" fill-opacity="0.8" stroke="#ccc" stroke-opacity="0.8" stroke-width="1.2"/>
<rect x="1646.8" y="825" width="47.9" height="16.7" fill="#1f77b4"/>
<text x="1713.9" y="841.9" font-size="25" textLength="38.6" lengthAdjust="spacingAndGlyphs">Hits</text>
<rect x="1646.8" y="858.3" width="47.9" height="16.7" fill="#ff7f0e"/>
<text x="1713.9" y="875.2" font-size="25" textLength="63.4" lengthAdjust="spacingAndGlyphs">Events</text>
</svg>
</body></html>
